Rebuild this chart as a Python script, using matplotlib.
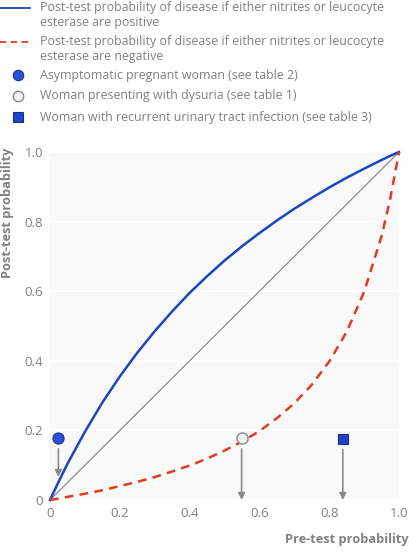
import numpy as np
import matplotlib
matplotlib.use("Agg")
import matplotlib.pyplot as plt
from matplotlib.lines import Line2D

# values
pre_test = [0, 0.025, 0.05, 0.1, 0.15, 0.2, 0.25, 0.3, 0.35, 0.4, 0.45, 0.5,
            0.55, 0.6, 0.65, 0.7, 0.75, 0.8, 0.85, 0.9, 0.95, 0.975, 1.0]
post_positive = [0, 0.053, 0.104, 0.196, 0.280, 0.355, 0.423, 0.485, 0.542, 0.595,
                 0.643, 0.688, 0.729, 0.767, 0.803, 0.837, 0.868, 0.898, 0.926,
                 0.952, 0.977, 0.989, 1.0]
post_negative = [0, 0.004, 0.009, 0.018, 0.028, 0.040, 0.052, 0.066, 0.082, 0.099,
                 0.119, 0.142, 0.168, 0.198, 0.235, 0.278, 0.331, 0.398, 0.483,
                 0.598, 0.758, 0.866, 1.0]

# example patients: (pre-test probability, marker height, arrow tip)
patients_x = [0.024, 0.549, 0.839]
patients_y = [0.177, 0.177, 0.175]
arrow_tip = [0.066, 0.0, 0.0]

legend_labels = [
    "Post-test probability of disease if either nitrites or leucocyte\nesterase are positive",
    "Post-test probability of disease if either nitrites or leucocyte\nesterase are negative",
    "Asymptomatic pregnant woman (see table 2)",
    "Woman presenting with dysuria (see table 1)",
    "Woman with recurrent urinary tract infection (see table 3)",
]

plt.rcParams['font.family'] = ['Open Sans', 'DejaVu Sans']
grey_txt = "#808080"
blue = "#1b46c0"
red = "#e23b1f"

fig = plt.figure(figsize=(4.09, 5.54), dpi=100)
ax = fig.add_axes([50/409, 54/554, 349/409, 348/554])
ax.set_facecolor("#f9f9f9")
for s in ax.spines.values():
    s.set_visible(False)
ax.set_xlim(0, 1)
ax.set_ylim(0, 1)
ticks = [0, 0.2, 0.4, 0.6, 0.8, 1.0]
ticklabels = ["0", "0.2", "0.4", "0.6", "0.8", "1.0"]
ax.set_xticks(ticks)
ax.set_xticklabels(ticklabels)
ax.set_yticks(ticks)
ax.set_yticklabels(ticklabels)
ax.tick_params(length=0, labelsize=9.5, colors=grey_txt, pad=5)
ax.yaxis.grid(True, color="white", lw=1.5)
ax.set_axisbelow(True)

ax.plot([0, 1], [0, 1], color="#8c8c8c", lw=0.9, clip_on=False)
ax.plot(pre_test, post_positive, color=blue, lw=1.8, clip_on=False)
ax.plot(pre_test, post_negative, color=red, lw=1.8, ls=(0, (3.5, 2.5)), clip_on=False)

for x, y, tip in zip(patients_x, patients_y, arrow_tip):
    ax.annotate("", xy=(x, tip), xytext=(x, y - 0.03),
                arrowprops=dict(arrowstyle="-|>", color="#8a8a8a", lw=1.2,
                                mutation_scale=10, shrinkA=0, shrinkB=0),
                annotation_clip=False)

ax.plot(patients_x[0], patients_y[0], "o", ms=8, mfc="#2c52d8", mec="#1a2f90", mew=0.8, clip_on=False)
ax.plot(patients_x[1], patients_y[1], "o", ms=8, mfc="#f2f2f2", mec="#8a8a8a", mew=1.0, clip_on=False)
ax.plot(patients_x[2], patients_y[2], "s", ms=7, mfc="#1f44cc", mec="#15308f", mew=0.8, clip_on=False)

fig.text(8/409, 1 - 148/554, "Post-test probability", rotation=90, ha="center", va="top",
         fontsize=9.2, fontweight="bold", color=grey_txt)
fig.text(1.0, 1 - 540/554, "Pre-test probability", ha="right", va="center",
         fontsize=9.2, fontweight="bold", color=grey_txt)

# legend drawn by hand at the top
lg = fig.add_axes([0, 0, 1, 1], facecolor="none")
lg.set_xlim(0, 409)
lg.set_ylim(554, 0)
lg.axis("off")
lg.add_line(Line2D([0, 30], [8, 8], color=blue, lw=1.3))
lg.add_line(Line2D([0, 30], [42, 42], color=red, lw=1.3, ls=(0, (3.5, 2.5))))
lg.plot(18, 75, "o", ms=7.5, mfc="#2c52d8", mec="#1a2f90", mew=0.8)
lg.plot(18, 96, "o", ms=7.5, mfc="#f2f2f2", mec="#8a8a8a", mew=1.0)
lg.plot(18, 117, "s", ms=6.5, mfc="#1f44cc", mec="#15308f", mew=0.8)
text_y = [15, 49, 75, 96, 117]
for y, lab in zip(text_y, legend_labels):
    lg.text(40, y, lab, ha="left", va="center", fontsize=8.9, color=grey_txt, linespacing=1.25)

fig.savefig("out.png", dpi=100)
